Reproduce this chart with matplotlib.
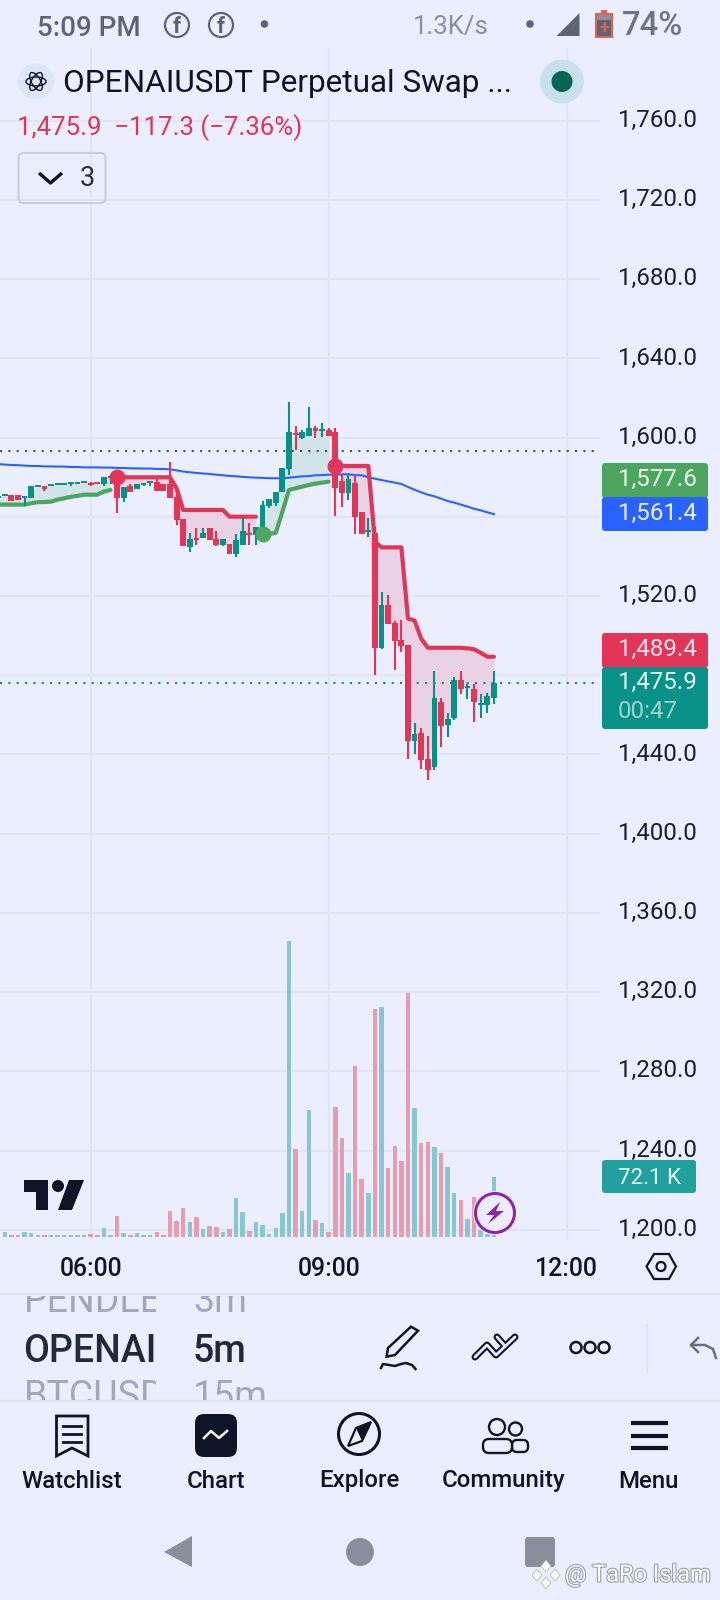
import numpy as np
import matplotlib
matplotlib.use('Agg')
import matplotlib.pyplot as plt
from matplotlib.patches import Circle, Ellipse, FancyBboxPatch, Polygon, Rectangle
from matplotlib.transforms import ScaledTranslation
import matplotlib.patheffects as pe

plt.rcParams['font.family'] = ['Roboto', 'DejaVu Sans']

# ---- data ----
first_bar = -14
opens = [1569.7, 1570.6, 1571.1, 1571.0, 1569.6, 1569.6, 1575.1, 1575.6, 1575.6, 1576.1, 1576.2, 1576.6, 1576.6, 1577.1,
         1577.1, 1577.6, 1576.6, 1579.7, 1580.7, 1569.6, 1575.6, 1574.1, 1576.1, 1577.1, 1577.6, 1576.6, 1576.6, 1570.1,
         1558.9, 1544.8, 1549.3, 1549.3, 1554.4, 1548.8, 1545.8, 1546.3, 1541.3, 1545.8, 1551.9, 1550.9, 1553.9, 1565.5,
         1567.0, 1572.6, 1584.3, 1602.4, 1599.8, 1600.8, 1604.9, 1603.4, 1603.9, 1602.9, 1578.1, 1572.0, 1577.1, 1562.5,
         1552.4, 1551.9, 1493.6, 1515.5, 1506.4, 1497.8, 1495.3, 1446.8, 1450.8, 1437.7, 1433.7, 1466.5, 1454.9, 1458.4,
         1477.6, 1473.6, 1473.0, 1465.0, 1465.0, 1468.5]
highs = [1570.4, 1571.6, 1571.1, 1571.0, 1570.6, 1575.6, 1576.1, 1575.6, 1576.6, 1577.1, 1577.1, 1577.6, 1577.6, 1578.1,
         1577.6, 1577.6, 1580.2, 1580.7, 1580.7, 1575.1, 1576.6, 1576.6, 1577.1, 1578.1, 1579.1, 1576.6, 1587.7, 1575.1,
         1558.9, 1551.9, 1554.4, 1554.4, 1554.4, 1552.9, 1548.8, 1546.3, 1551.4, 1559.4, 1556.9, 1554.9, 1568.0, 1569.0,
         1572.6, 1584.7, 1618.0, 1605.9, 1603.9, 1615.5, 1605.9, 1607.4, 1604.9, 1604.9, 1581.1, 1581.1, 1581.1, 1562.5,
         1559.4, 1554.9, 1521.9, 1520.5, 1507.4, 1507.9, 1495.3, 1455.9, 1453.4, 1449.3, 1482.1, 1468.5, 1460.9, 1479.1,
         1482.1, 1475.6, 1475.6, 1470.5, 1471.0, 1482.1]
lows = [1569.7, 1570.6, 1568.2, 1568.3, 1565.5, 1569.6, 1575.1, 1573.1, 1575.6, 1576.1, 1576.2, 1575.6, 1576.6, 1577.1,
        1575.6, 1576.6, 1575.6, 1576.6, 1562.0, 1567.5, 1572.6, 1574.1, 1575.6, 1575.6, 1573.1, 1573.1, 1569.6, 1555.9,
        1545.3, 1542.3, 1545.8, 1549.3, 1548.3, 1545.3, 1545.3, 1541.3, 1539.8, 1545.8, 1545.8, 1545.8, 1553.9, 1564.5,
        1565.5, 1572.6, 1581.1, 1593.8, 1599.3, 1600.8, 1599.8, 1600.3, 1600.8, 1560.6, 1565.0, 1568.5, 1551.3, 1551.3,
        1549.8, 1480.1, 1493.2, 1505.9, 1482.6, 1491.7, 1437.7, 1440.2, 1432.6, 1427.1, 1432.1, 1443.8, 1448.8, 1457.4,
        1470.5, 1468.0, 1456.4, 1458.4, 1460.9, 1465.5]
closes = [1570.4, 1571.6, 1568.2, 1568.3, 1570.6, 1575.6, 1576.1, 1574.1, 1576.6, 1577.1, 1577.1, 1577.6, 1577.6, 1578.1,
          1576.1, 1576.6, 1580.2, 1580.7, 1569.6, 1575.1, 1572.6, 1576.6, 1577.1, 1578.1, 1573.1, 1573.1, 1569.6, 1558.4,
          1545.3, 1548.8, 1548.3, 1551.9, 1548.3, 1545.8, 1548.8, 1541.3, 1548.3, 1552.9, 1550.9, 1554.9, 1566.0, 1569.0,
          1572.6, 1584.7, 1602.9, 1601.3, 1602.9, 1604.9, 1603.4, 1604.4, 1600.8, 1574.7, 1572.0, 1579.1, 1559.9, 1551.3,
          1553.4, 1493.9, 1515.5, 1505.9, 1497.3, 1494.8, 1446.8, 1450.3, 1437.2, 1432.1, 1468.5, 1454.4, 1457.9, 1477.6,
          1473.0, 1474.6, 1466.5, 1466.0, 1469.5, 1475.9]
volumes = [2.4, 6.0, 2.4, 2.4, 6.0, 4.8, 2.4, 2.4, 2.4, 2.4, 2.4, 2.4, 2.4, 2.4,
           3.6, 2.4, 10.8, 2.4, 25.2, 4.8, 2.4, 4.8, 2.4, 2.4, 6.0, 2.4, 31.2, 19.2,
           34.8, 18.0, 24.0, 9.6, 13.2, 12.0, 6.0, 9.6, 46.8, 30.0, 7.2, 18.0, 14.4, 3.6,
           10.8, 28.8, 355.0, 105.6, 31.2, 152.4, 20.4, 16.8, 6.0, 156.0, 118.8, 76.8, 205.2, 69.6,
           52.8, 273.6, 276.0, 82.8, 109.2, 91.2, 292.8, 154.8, 112.8, 114.0, 108.0, 100.8, 84.0, 52.8,
           44.4, 21.6, 48.0, 8.4, 3.6, 72.1]
ma_line = [1586.7, 1586.4, 1586.2, 1586.1, 1585.9, 1585.7, 1585.7, 1585.5, 1585.5, 1585.4, 1585.4, 1585.2, 1585.2, 1585.0,
           1585.0, 1585.0, 1584.9, 1584.9, 1584.7, 1584.7, 1584.5, 1584.5, 1584.4, 1584.4, 1584.2, 1584.2, 1584.0, 1583.5,
           1582.9, 1582.5, 1582.2, 1581.9, 1581.7, 1581.3, 1581.0, 1580.7, 1580.5, 1580.2, 1580.0, 1579.8, 1579.7, 1579.5,
           1579.5, 1579.5, 1579.8, 1580.1, 1580.5, 1580.6, 1581.0, 1581.1, 1581.3, 1581.3, 1581.5, 1581.5, 1581.1, 1581.0,
           1580.0, 1579.3, 1578.6, 1577.9, 1577.3, 1576.6, 1575.1, 1573.7, 1572.4, 1571.2, 1570.4, 1569.2, 1568.0, 1567.2,
           1566.2, 1565.2, 1564.1, 1563.3, 1562.3, 1561.4]

# supertrend runs: (first bar, values)
st_green_1 = (-14, [1566.2, 1566.2, 1566.2, 1566.2, 1566.2, 1566.9, 1567.4, 1567.5, 1567.7, 1568.7, 1569.4, 1570.1, 1570.6,
                    1571.2, 1571.2, 1571.2, 1572.8, 1573.6])
st_red_1 = (4, [1580.0] * 9 + [1574.4] + [1563.5] * 7 + [1560.1] * 5)
st_green_2 = (26, [1551.2, 1551.5, 1551.9, 1562.6, 1573.6, 1574.4, 1575.3, 1576.1, 1576.8, 1577.3, 1577.8])
st_red_2 = (37, [1585.7] * 6 + [1547.5] + [1544.6] * 4 + [1508.7, 1507.6, 1498.6] + [1493.9] * 6
            + [1493.6, 1493.1, 1491.4, 1489.4, 1489.4])

prev_close = 1593.2
last_price = 1475.9
price_ticks = list(range(1200, 1761, 40))
hidden_ticks = [1480, 1560]  # covered by the price tags on the scale
time_ticks = [0, 36, 72]
time_labels = ['06:00', '09:00', '12:00']

# colours
bg = '#EBEEFE'
grid_c = '#E1E4F4'
teal = '#089186'
red = '#E23557'
st_green_c = '#4CA65F'
dark = '#0F1426'

bars = np.arange(first_bar, first_bar + len(opens))
opens, highs, lows, closes = map(np.array, (opens, highs, lows, closes))
up = closes >= opens

fig = plt.figure(figsize=(7.2, 16), dpi=100, facecolor=bg)

# price pane: pixel box x 0-600, y 48-1240
ax = fig.add_axes([0, 360 / 1600, 600 / 720, 1192 / 1600], facecolor=bg, zorder=1)
ax.set_xlim(-13.72, 77.05)
ax.set_ylim(1194.8, 1796.8)
ax.set_yticks(price_ticks)
ax.set_yticklabels(['' if p in hidden_ticks else '{:,.1f}'.format(p) for p in price_ticks])
ax.set_xticks(time_ticks)
ax.set_xticklabels(time_labels, fontweight='medium')
ax.tick_params(axis='y', length=0, labelleft=False, labelright=True, pad=13.5, labelsize=17.4, labelcolor='#1A1E2E')
ax.tick_params(axis='x', length=0, pad=12, labelsize=17.8, labelcolor=dark)
shift = ScaledTranslation(-0.01, 0.03, fig.dpi_scale_trans)
for lab in ax.get_yticklabels():
    lab.set_transform(lab.get_transform() + shift)
ax.grid(True, color=grid_c, lw=1.5)
ax.set_axisbelow(True)
for s in ax.spines.values():
    s.set_visible(False)

# supertrend fills and lines
for (start, vals), fill_c, line_c in [(st_green_1, '#D2E4E8', st_green_c), (st_red_1, '#E9D2E4', red),
                                      (st_green_2, '#D2E4E8', st_green_c), (st_red_2, '#E9D2E4', red)]:
    x = np.arange(start, start + len(vals))
    mid = (opens[x - first_bar] + closes[x - first_bar]) / 2
    ax.fill_between(x, vals, mid, color=fill_c, lw=0, zorder=2)
    ax.plot(x, vals, color=line_c, lw=3, solid_joinstyle='round', solid_capstyle='round', zorder=5)

ax.plot(bars, ma_line, color='#2962FF', lw=1.5, zorder=3)
ax.axhline(prev_close, color='#4B4F5E', lw=1.5, ls=(0, (1, 3)), xmax=0.995, zorder=3)
ax.axhline(last_price, color=teal, lw=1.5, ls=(0, (1, 3)), xmax=0.995, zorder=3)

# candles
colors = [teal if u else red for u in up]
ax.vlines(bars, lows, highs, colors=colors, lw=1.5, zorder=6)
ax.bar(bars, closes - opens, bottom=opens, width=0.88, color=colors, lw=0, zorder=6)

# supertrend flip dots
ax.plot([4, 37], [1580.0, 1585.7], 'o', color=red, ms=11.5, mew=0, zorder=7)
ax.plot([26], [1551.2], 'o', color=st_green_c, ms=11.5, mew=0, zorder=7)

# volume pane on same box
ax_vol = fig.add_axes(ax.get_position(), zorder=2)
ax_vol.patch.set_visible(False)
ax_vol.set_xlim(ax.get_xlim())
ax_vol.set_ylim(-3.6, 1426.8)
ax_vol.axis('off')
ax_vol.bar(bars, volumes, width=0.68, color=['#88C6D2' if u else '#E59DAF' for u in up], lw=0)

# ---- everything else in pixel coordinates ----
ov = fig.add_axes([0, 0, 1, 1], zorder=5)
ov.patch.set_visible(False)
ov.set_xlim(0, 720)
ov.set_ylim(1600, 0)
ov.axis('off')


def label(x, y, s, size=17, color=dark, ha='left', weight='normal', **kw):
    return ov.text(x, y, s, fontsize=size, color=color, ha=ha, va='center', fontweight=weight, **kw)


def rbox(x0, y0, x1, y1, fc, ec='none', lw=0, r=3):
    ov.add_patch(FancyBboxPatch((x0 + r, y0 + r), x1 - x0 - 2 * r, y1 - y0 - 2 * r,
                                boxstyle='round,pad={},rounding_size={}'.format(r, r), fc=fc, ec=ec, lw=lw))


# status bar
gray_s = '#5F6472'
label(37, 28, '5:09 PM', 20, gray_s, weight='medium')
for cx in [177, 221]:
    ov.add_patch(Circle((cx, 25), 12, fc='none', ec=gray_s, lw=1.6))
    label(cx, 27, 'f', 16, gray_s, ha='center', weight='bold')
ov.add_patch(Circle((264.5, 24), 3.8, fc=gray_s, ec='none'))
label(413, 27, '1.3K/s', 18.5, '#8A8F9C')
ov.add_patch(Circle((530, 24), 3.8, fc=gray_s, ec='none'))
ov.add_patch(Polygon([(556.5, 36), (579.5, 13), (579.5, 36)], fc=gray_s, ec='none'))
ov.add_patch(Rectangle((596, 14), 16, 23, fc='#8B8FA0', ec='#E0624E', lw=1.5))
ov.add_patch(Rectangle((601, 10), 6, 4, fc='#E0624E', ec='none'))
ov.add_patch(Rectangle((597, 20), 14, 16, fc='#5F6472', ec='none'))
label(604, 28, '+', 13, '#E0624E', ha='center', weight='bold')
label(622, 26, '74%', 23.5, '#6F7482', weight='medium')

# title row
ov.add_patch(Circle((36, 81.5), 18, fc='#DCE6F7', ec='none'))
for ang in [0, 60, 120]:
    ov.add_patch(Ellipse((36, 81.5), 20, 9, angle=ang, fc='none', ec=dark, lw=1.0))
label(63, 84, 'OPENAIUSDT Perpetual Swap ...', 22.7, dark)
ov.add_patch(Circle((562, 81.5), 22, fc='#C8E1EC', ec='none'))
ov.add_patch(Circle((562, 81.5), 10.5, fc='#056656', ec='none'))
label(17, 128, '1,475.9  \u2212117.3 (\u22127.36%)', 18.6, red)
rbox(18.5, 153, 105.5, 203, 'none', '#C9CDDF', 1.5, 5)
ov.plot([39, 50.5, 62], [173, 183, 173], color=dark, lw=2.4, solid_capstyle='butt')
label(80, 178, '3', 19.5, '#2A2E3E')

# right-hand price tags
rbox(602, 463, 708, 498, st_green_c)
rbox(602, 497, 708, 531, '#2962FF')
rbox(602, 633, 708, 668, red)
rbox(602, 667, 708, 729, '#089186')
rbox(602, 1160, 696, 1193, '#22A09F')
for y, s, c in [(479, '1,577.6', '#EEF3F2'), (513, '1,561.4', '#EAF0FF'), (649, '1,489.4', '#F6E6EC'),
                (682, '1,475.9', '#E8F4F2'), (711, '00:47', '#9FD1CC')]:
    label(618, y, s, 17.4, c)
label(618, 1179, '72.1 K', 16, '#EAF6F6')

# tradingview logo
ov.add_patch(Polygon([(24, 1180), (48, 1180), (48, 1210), (36, 1210), (36, 1192), (24, 1192)], fc=dark, ec='none'))
ov.add_patch(Circle((58, 1186), 6, fc=dark, ec='none'))
ov.add_patch(Polygon([(69, 1180), (84, 1180), (72, 1210), (58, 1210)], fc=dark, ec='none'))

# lightning badge
ov.add_patch(Circle((495, 1213), 22, fc=bg, ec='none'))
ov.add_patch(Circle((495, 1213), 19.5, fc=bg, ec='#8E24AA', lw=2.2))
ov.add_patch(Polygon([(500, 1202), (486, 1215), (494, 1215), (488, 1224), (504, 1211), (496, 1211)],
                     fc='#8E24AA', ec='none'))

# settings hexagon
ov.add_patch(Polygon([(646.5, 1266.5), (654, 1254), (669, 1254), (676, 1266.5), (669, 1279), (654, 1279)],
                     fc='none', ec=dark, lw=1.6))
ov.add_patch(Circle((661, 1266.5), 4.5, fc='none', ec=dark, lw=1.6))

# separators
ov.plot([0, 720], [1294, 1294], color=grid_c, lw=1.6)
ov.plot([0, 720], [1401, 1401], color=grid_c, lw=1.6)

# symbol / interval picker, clipped wheel rows
clip_top = Rectangle((0, 1296), 720, 104, transform=ov.transData)
clip_name = Rectangle((0, 1296), 156, 104, transform=ov.transData)
for y, name, tf, c in [(1302, 'PENDLE', '3m', '#A4A7B6'), (1351, 'OPENAI', '5m', '#23283A'),
                       (1398, 'BTCUSD', '15m', '#A4A7B6')]:
    w = 'medium' if tf == '5m' else 'normal'
    t = label(23.5, y, name, 27, c, weight=w, clip_on=True)
    t.set_clip_path(clip_name)
    t = label(193, y, tf, 27, c, weight=w, clip_on=True)
    t.set_clip_path(clip_top)

# toolbar icons
ov.add_patch(Polygon([(386.6, 1356.7), (388, 1348), (411, 1326.7), (418, 1330.7), (395, 1355)],
                     fc='none', ec=dark, lw=1.8))
ov.plot([381, 383, 389, 395, 401, 406, 412, 415.5], [1368, 1364, 1365, 1366, 1364, 1363, 1365, 1369],
        color=dark, lw=1.8)
for lw, c in [(5, dark), (2, bg)]:
    ov.plot([475, 487, 496, 515], [1357, 1345, 1355, 1337], color=c, lw=lw,
            solid_joinstyle='round', solid_capstyle='round')
    ov.plot([497, 505], [1337, 1346], color=c, lw=lw, solid_capstyle='round')
for cx in [576, 590, 604]:
    ov.add_patch(Circle((cx, 1347.5), 5.5, fc='none', ec=dark, lw=1.8))
ov.plot([647, 647], [1325, 1372], color=grid_c, lw=1.5)
ov.plot([698, 691, 698], [1338, 1345, 1352], color='#6A6F7D', lw=1.8)
ov.plot([691, 705, 713, 716], [1345, 1345, 1349, 1358], color='#6A6F7D', lw=1.8)

# tab bar icons
ov.add_patch(Polygon([(56.5, 1416), (88, 1416), (88, 1456), (72, 1448), (56.5, 1456)], fc='none', ec=dark, lw=2))
for y in [1426, 1434, 1442]:
    ov.plot([63, 81], [y, y], color=dark, lw=2)
rbox(195, 1414, 237, 1457, dark, r=9)
ov.plot([204, 211, 219, 227], [1438, 1431, 1438, 1431], color='white', lw=1.8)
ov.add_patch(Circle((359, 1434), 20.5, fc='none', ec=dark, lw=2.2))
ov.add_patch(Polygon([(371, 1422), (362, 1441), (348, 1446), (356, 1428)], fc='none', ec=dark, lw=1.6))
ov.add_patch(Polygon([(371, 1422), (362, 1441), (356, 1428)], fc=dark, ec='none'))
ov.add_patch(Circle((497, 1427), 8, fc='none', ec=dark, lw=1.7))
ov.add_patch(Circle((515.5, 1429), 6.5, fc='none', ec=dark, lw=1.7))
rbox(512, 1440, 528, 1452, 'none', dark, 1.7, 5)
rbox(483, 1439, 512, 1453, bg, dark, 1.7, 6)
for y in [1423, 1436, 1448]:
    ov.plot([631, 668], [y, y], color=dark, lw=3, solid_capstyle='butt')
for x, s in [(72, 'Watchlist'), (216, 'Chart'), (359.5, 'Explore'), (504, 'Community'), (648, 'Menu')]:
    label(x, 1481, s, 17.3, dark, ha='center', weight='medium')

# android nav bar
nav_c = '#8A8D9B'
ov.add_patch(Polygon([(164, 1552), (192, 1536), (192, 1567)], fc=nav_c, ec='none'))
ov.add_patch(Circle((360, 1552), 14, fc=nav_c, ec='none'))
rbox(525, 1537, 555, 1567, nav_c, r=3)

# watermark
halo = [pe.withStroke(linewidth=1.6, foreground='#9A9DAD')]
for dx, dy in [(0, -9), (-9, 0), (9, 0), (0, 8)]:
    ov.add_patch(Polygon([(546 + dx, 1569 + dy), (551 + dx, 1575 + dy), (546 + dx, 1581 + dy), (541 + dx, 1575 + dy)],
                         fc='white', ec='#B4B7C6', lw=0.6))
t = label(565, 1575, '@ TaRo Islam', 17, 'white')
t.set_path_effects(halo)

fig.savefig('out.png', dpi=100, facecolor=bg)
